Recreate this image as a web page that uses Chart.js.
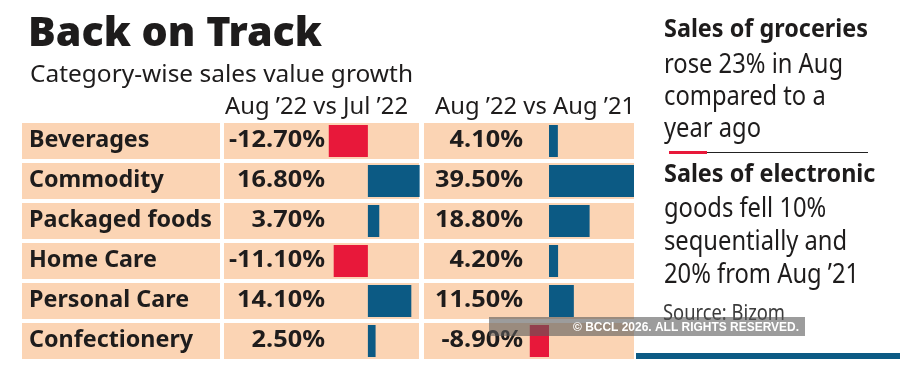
<!DOCTYPE html>
<html>
<head>
<meta charset="utf-8">
<script src="https://cdn.jsdelivr.net/npm/chart.js@4"></script>
<style>
  html, body { margin: 0; background: #fff; }
  canvas { display: block; }
</style>
</head>
<body>
<canvas id="myChart" width="900" height="381"></canvas>
<script>
const categories = ['Beverages', 'Commodity', 'Packaged foods', 'Home Care', 'Personal Care', 'Confectionery'];
const vsJul22 = [-12.7, 16.8, 3.7, -11.1, 14.1, 2.5];
const vsAug21 = [4.1, 39.5, 18.8, 4.2, 11.5, -8.9];
const seriesLabels = ['Aug ’22 vs Jul ’22', 'Aug ’22 vs Aug ’21'];

const title = 'Back on Track';
const subtitle = 'Category-wise sales value growth';
const notes1 = ['Sales of groceries', 'rose 23% in Aug', 'compared to a', 'year ago'];
const notes2 = ['Sales of electronic', 'goods fell 10%', 'sequentially and', '20% from Aug ’21'];
const source = 'Source: Bizom';
const credit = '© BCCL 2026. ALL RIGHTS RESERVED.';

const INK = '#1e1c1c';
const PEACH = '#fbd4b4';
const RED = '#e8183a';
const BLUE = '#0c5a84';

// text squeezed sideways so that o.ref would come out o.refW wide
const say = (ctx, str, x, y, o) => {
    ctx.save();
    ctx.font = `${o.weight || 400} ${o.size}px "Noto Sans"`;
    const sx = o.ref ? o.refW / ctx.measureText(o.ref).width : 1;
    const w = ctx.measureText(str).width * sx;
    ctx.translate(o.align === 'right' ? x - w : x, y);
    ctx.scale(sx, 1);
    ctx.fillStyle = o.color || INK;
    ctx.textBaseline = 'alphabetic';
    ctx.fillText(str, 0, 0);
    ctx.restore();
};

const headStyle = { size: 40, weight: 900, ref: title, refW: 294 };
const subStyle = { size: 23, ref: subtitle, refW: 383 };
const colStyle = { size: 23, ref: seriesLabels[0], refW: 183 };
const labelStyle = { size: 24, weight: 700, ref: 'Packaged foods', refW: 183 };
const valueStyle = { size: 24, weight: 700, ref: '-12.70%', refW: 96, align: 'right' };
const noteBold = { size: 25, weight: 700, ref: notes1[0], refW: 204 };
const noteStyle = { size: 27, ref: notes1[1], refW: 179 };
const srcStyle = { size: 21, ref: source, refW: 122, color: '#3a3a3a' };

const cells = [[22, 220], [224, 419], [424, 634]];

const rowsPlugin = {
    id: 'rows',
    beforeDatasetsDraw(chart) {
        const ctx = chart.ctx;
        const y = chart.scales.y;
        ctx.save();
        ctx.fillStyle = PEACH;
        categories.forEach((c, i) => {
            const yc = y.getPixelForValue(i);
            cells.forEach(([a, b]) => ctx.fillRect(a, yc - 18, b - a, 36));
        });
        ctx.restore();
    }
};

const textPlugin = {
    id: 'texts',
    afterDraw(chart) {
        const ctx = chart.ctx;
        const y = chart.scales.y;

        say(ctx, title, 28, 46, headStyle);
        say(ctx, subtitle, 30, 82, subStyle);
        say(ctx, seriesLabels[0], 225, 114, colStyle);
        say(ctx, seriesLabels[1], 435, 114, colStyle);

        categories.forEach((c, i) => {
            const yb = y.getPixelForValue(i) + 6;
            say(ctx, c, 29, yb, labelStyle);
            say(ctx, vsJul22[i].toFixed(2) + '%', 325, yb, valueStyle);
            say(ctx, vsAug21[i].toFixed(2) + '%', 523, yb, valueStyle);
        });

        // side notes
        say(ctx, notes1[0], 664, 37, noteBold);
        notes1.slice(1).forEach((t, i) => say(ctx, t, 664, 73 + i * 32, noteStyle));
        ctx.fillStyle = '#222';
        ctx.fillRect(707, 152, 161, 1);
        ctx.fillStyle = RED;
        ctx.fillRect(669, 151, 38, 3);
        say(ctx, notes2[0], 664, 182, noteBold);
        notes2.slice(1).forEach((t, i) => say(ctx, t, 664, 217 + i * 33, noteStyle));
        say(ctx, source, 663, 320, srcStyle);

        ctx.fillStyle = BLUE;
        ctx.fillRect(636, 353, 264, 6);

        // watermark
        ctx.fillStyle = 'rgba(90, 90, 90, 0.6)';
        ctx.fillRect(489, 317, 316, 19);
        ctx.fillStyle = '#fff';
        ctx.font = 'bold 13px "Liberation Sans"';
        ctx.fillText(credit, 573, 331, 226);
    }
};

const ctx = document.getElementById('myChart').getContext('2d');
new Chart(ctx, {
    type: 'bar',
    data: {
        labels: categories,
        datasets: [{
            label: seriesLabels[0],
            data: vsJul22,
            xAxisID: 'x1',
            backgroundColor: c => c.raw < 0 ? RED : BLUE
        }, {
            label: seriesLabels[1],
            data: vsAug21,
            xAxisID: 'x2',
            backgroundColor: c => c.raw < 0 ? RED : BLUE
        }]
    },
    options: {
        indexAxis: 'y',
        responsive: false,
        animation: false,
        layout: { padding: { left: 22, right: 266, top: 121, bottom: 20 } },
        datasets: {
            bar: { grouped: false, categoryPercentage: 1, barPercentage: 0.8, borderWidth: 0 }
        },
        scales: {
            y: { display: false },
            x1: { type: 'linear', display: false, min: -112.3, max: 86.4 },
            x2: { type: 'linear', display: false, min: -244, max: 39.35 }
        },
        plugins: {
            legend: { display: false },
            tooltip: { enabled: false }
        }
    },
    plugins: [rowsPlugin, textPlugin]
});
</script>
</body>
</html>
